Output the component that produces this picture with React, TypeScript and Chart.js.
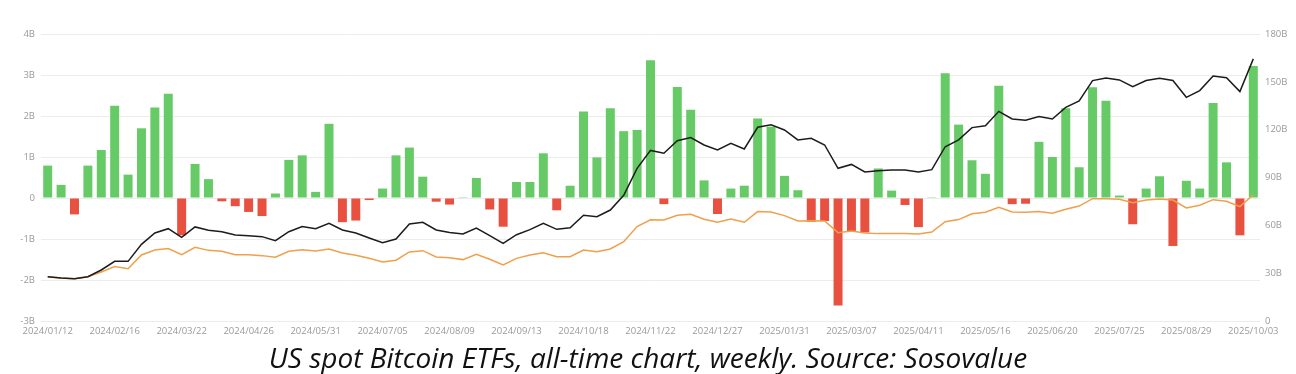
import React, { useEffect, useRef } from "react";
import { Chart, registerables } from "chart.js";

Chart.register(...registerables);

const weeks: string[] = [
  "2024/01/12", "2024/01/19", "2024/01/26", "2024/02/02", "2024/02/09", "2024/02/16", "2024/02/23", "2024/03/01", "2024/03/08", "2024/03/15",
  "2024/03/22", "2024/03/29", "2024/04/05", "2024/04/12", "2024/04/19", "2024/04/26", "2024/05/03", "2024/05/10", "2024/05/17", "2024/05/24",
  "2024/05/31", "2024/06/07", "2024/06/14", "2024/06/21", "2024/06/28", "2024/07/05", "2024/07/12", "2024/07/19", "2024/07/26", "2024/08/02",
  "2024/08/09", "2024/08/16", "2024/08/23", "2024/08/30", "2024/09/06", "2024/09/13", "2024/09/20", "2024/09/27", "2024/10/04", "2024/10/11",
  "2024/10/18", "2024/10/25", "2024/11/01", "2024/11/08", "2024/11/15", "2024/11/22", "2024/11/29", "2024/12/06", "2024/12/13", "2024/12/20",
  "2024/12/27", "2025/01/03", "2025/01/10", "2025/01/17", "2025/01/24", "2025/01/31", "2025/02/07", "2025/02/14", "2025/02/21", "2025/02/28",
  "2025/03/07", "2025/03/14", "2025/03/21", "2025/03/28", "2025/04/04", "2025/04/11", "2025/04/18", "2025/04/25", "2025/05/02", "2025/05/09",
  "2025/05/16", "2025/05/23", "2025/05/30", "2025/06/06", "2025/06/13", "2025/06/20", "2025/06/27", "2025/07/04", "2025/07/11", "2025/07/18",
  "2025/07/25", "2025/08/01", "2025/08/08", "2025/08/15", "2025/08/22", "2025/08/29", "2025/09/05", "2025/09/12", "2025/09/19", "2025/09/26",
  "2025/10/03",
];

// Weekly net inflow (billions USD)
const weeklyNetInflow: number[] = [
  0.79, 0.32, -0.40, 0.79, 1.17, 2.25, 0.57, 1.70, 2.21, 2.54,
  -0.91, 0.83, 0.46, -0.08, -0.20, -0.34, -0.44, 0.11, 0.93, 1.04,
  0.15, 1.81, -0.59, -0.55, -0.05, 0.23, 1.04, 1.23, 0.52, -0.09,
  -0.16, 0.02, 0.49, -0.28, -0.70, 0.39, 0.39, 1.09, -0.30, 0.30,
  2.11, 0.99, 2.19, 1.63, 1.66, 3.36, -0.15, 2.71, 2.15, 0.43,
  -0.39, 0.23, 0.30, 1.94, 1.74, 0.54, 0.19, -0.58, -0.56, -2.62,
  -0.82, -0.84, 0.72, 0.18, -0.17, -0.71, 0.02, 3.04, 1.79, 0.92,
  0.59, 2.74, -0.15, -0.14, 1.37, 1.00, 2.19, 0.75, 2.70, 2.37,
  0.06, -0.64, 0.23, 0.53, -1.17, 0.42, 0.23, 2.32, 0.87, -0.91,
  3.22,
];

// Total net assets (billions USD)
const totalNetAssets: number[] = [
  27.8, 27.0, 26.5, 27.8, 32.0, 37.4, 37.4, 48.1, 55.2, 57.9,
  52.5, 59.0, 56.9, 56.0, 54.0, 53.5, 52.9, 50.4, 56.0, 59.2,
  57.9, 61.3, 57.1, 55.2, 52.1, 49.1, 51.4, 60.9, 61.9, 57.1,
  55.5, 54.6, 58.3, 53.5, 48.7, 54.1, 57.3, 61.3, 57.5, 58.5,
  66.3, 65.4, 69.6, 78.8, 95.7, 107.0, 105.2, 113.1, 115.0, 110.4,
  107.3, 111.5, 107.9, 121.5, 123.0, 119.8, 113.6, 114.6, 110.4, 95.8,
  98.2, 93.5, 94.3, 94.7, 94.7, 93.5, 94.9, 109.3, 113.6, 121.3,
  122.5, 131.5, 126.7, 125.9, 128.2, 126.7, 134.0, 138.0, 150.8, 152.4,
  151.2, 147.0, 150.8, 152.3, 150.8, 140.3, 144.5, 153.7, 152.6, 143.9,
  164.4,
];

// Cumulative net inflow (billions USD)
const cumulativeNetInflow: number[] = [
  27.8, 27.0, 26.5, 27.8, 30.7, 34.1, 32.8, 41.4, 44.5, 45.4,
  41.6, 46.2, 44.3, 43.7, 41.6, 41.5, 41.0, 40.0, 43.7, 44.7,
  43.9, 45.2, 42.7, 41.2, 39.3, 37.0, 38.1, 43.3, 44.1, 40.2,
  39.6, 38.5, 41.8, 38.7, 35.1, 39.3, 41.4, 42.8, 40.3, 40.3,
  44.5, 43.5, 45.2, 49.7, 59.2, 63.5, 63.4, 66.3, 66.9, 63.8,
  61.9, 64.0, 61.9, 68.6, 68.4, 66.1, 62.7, 62.9, 62.7, 55.4,
  56.5, 55.2, 54.8, 54.8, 54.8, 54.6, 55.8, 62.3, 63.6, 67.3,
  68.2, 71.3, 68.4, 68.2, 68.6, 67.6, 70.1, 72.1, 76.7, 76.7,
  76.3, 74.2, 75.9, 76.5, 75.9, 70.9, 72.6, 76.1, 75.1, 71.7,
  79.2,
];

const titleText = "US spot Bitcoin ETFs, all-time chart, weekly. Source: Sosovalue";

export default function App() {
  const ref = useRef<HTMLCanvasElement | null>(null);

  useEffect(() => {
    if (!ref.current) return;
    const tickFont = { family: "'Open Sans', 'Noto Sans', sans-serif", size: 9.5 };
    const chart = new Chart(ref.current, {
      type: "bar",
      data: {
        labels: weeks,
        datasets: [
          {
            type: "line",
            label: "Total Net Assets",
            data: totalNetAssets,
            yAxisID: "y1",
            borderColor: "#1c1c1c",
            borderWidth: 1.5,
            pointRadius: 0,
            tension: 0,
            order: 0,
          },
          {
            type: "line",
            label: "Cumulative Net Inflow",
            data: cumulativeNetInflow,
            yAxisID: "y1",
            borderColor: "#f0a04a",
            borderWidth: 1.5,
            pointRadius: 0,
            tension: 0,
            order: 0,
          },
          {
            type: "bar",
            label: "Weekly Net Inflow",
            data: weeklyNetInflow,
            yAxisID: "y",
            backgroundColor: weeklyNetInflow.map((v) => (v >= 0 ? "#66ca66" : "#e8503f")),
            barPercentage: 0.67,
            categoryPercentage: 1,
            order: 1,
          },
        ],
      },
      options: {
        animation: false,
        responsive: false,
        maintainAspectRatio: false,
        layout: { padding: { top: 34, left: 0, right: 0, bottom: 0 } },
        plugins: {
          legend: { display: false },
          tooltip: { enabled: false },
          title: {
            display: true,
            text: titleText,
            position: "bottom",
            color: "#111",
            font: { family: "'Open Sans', 'Noto Sans', sans-serif", size: 28, style: "italic", weight: "normal", lineHeight: 1.0 },
            padding: { top: 7, bottom: 0 },
          },
        },
        scales: {
          x: {
            grid: { display: false, drawTicks: false },
            border: { display: false },
            ticks: {
              autoSkip: false,
              maxRotation: 0,
              minRotation: 0,
              padding: 5,
              color: "#9a9a9a",
              font: tickFont,
              callback: (_v: any, i: number) => (i % 5 === 0 ? weeks[i] : ""),
            },
            afterFit: (s: any) => {
              s.height = 18;
            },
          },
          y: {
            position: "left",
            min: -3,
            max: 4,
            ticks: {
              stepSize: 1,
              padding: 6,
              color: "#9a9a9a",
              font: tickFont,
              callback: (v: any) => (v === 0 ? "0" : `${v}B`),
            },
            grid: { color: "#ececec", lineWidth: 1, drawTicks: false },
            border: { display: false },
            afterFit: (s: any) => {
              s.width = 41;
            },
          },
          y1: {
            position: "right",
            min: 0,
            max: 180,
            ticks: {
              stepSize: 30,
              padding: 5,
              color: "#9a9a9a",
              font: tickFont,
              callback: (v: any) => (v === 0 ? "0" : `${v}B`),
            },
            grid: { display: false, drawTicks: false },
            border: { display: false },
            afterFit: (s: any) => {
              s.width = 36;
            },
          },
        },
      },
    } as any);
    return () => chart.destroy();
  }, []);

  return (
    <div style={{ position: "fixed", left: 0, top: 0, width: 1296, height: 374, background: "#fff" }}>
      <canvas ref={ref} width={1296} height={374} style={{ width: 1296, height: 374, display: "block" }} />
    </div>
  );
}
